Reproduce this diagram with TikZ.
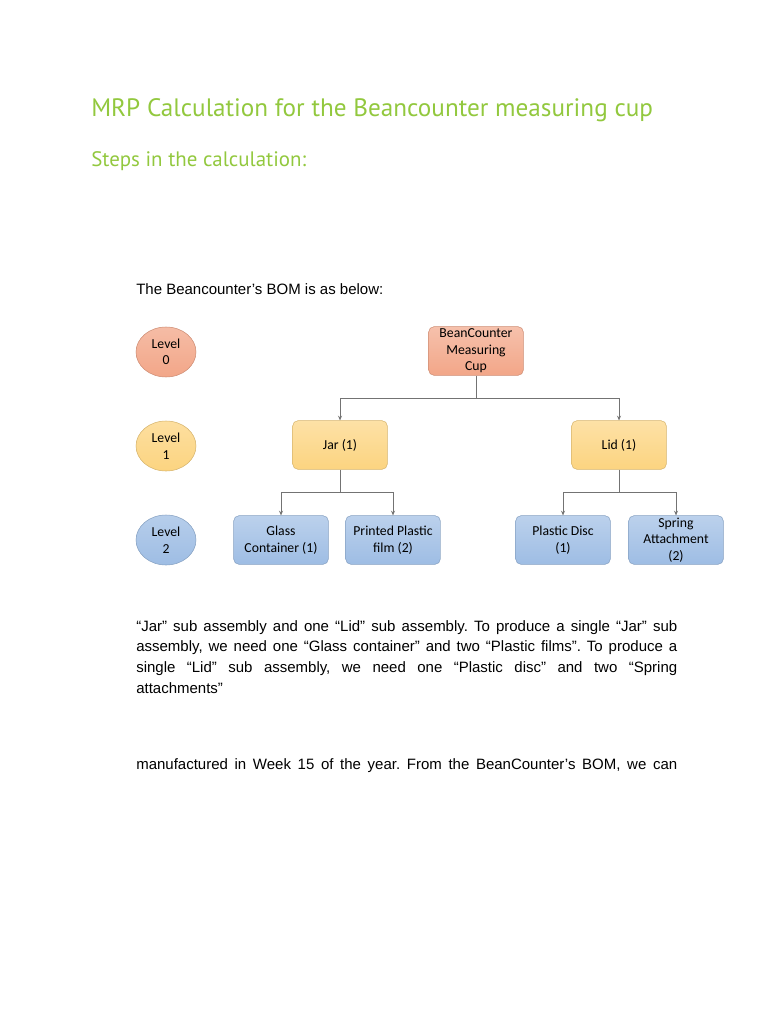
\documentclass[tikz,border=0pt]{standalone}
\usepackage{fontspec}
\setmainfont{Liberation Sans}
\newfontfamily\boxfont{Carlito}
\newfontfamily\headfont{PT Sans}
\usetikzlibrary{arrows.meta,shapes.geometric}
\definecolor{headgreen}{RGB}{146,200,62}
\definecolor{salmon}{RGB}{242,166,136}
\definecolor{amber}{RGB}{252,212,128}
\definecolor{skyblue}{RGB}{158,189,228}
\frenchspacing

\tikzset{
  item/.style={rounded corners=4pt, minimum width=71pt, minimum height=36.5pt,
    align=center, inner sep=1pt, draw=#1!85!black, line width=0.4pt,
    top color=#1!70, bottom color=#1,
    font=\boxfont\fontsize{10.3}{12.4}\selectfont},
  level/.style={ellipse, minimum width=45pt, minimum height=37.5pt,
    align=center, inner sep=0pt, draw=#1!85!black, line width=0.4pt,
    top color=#1!75, bottom color=#1,
    font=\boxfont\fontsize{10.3}{12.4}\selectfont},
  link/.style={draw=black!55, line width=0.5pt, -{Stealth[length=3.5pt,width=3pt]}},
  stem/.style={draw=black!55, line width=0.5pt}
}

\begin{document}
\begin{tikzpicture}[x=0.75pt,y=-0.75pt]
\useasboundingbox (0,0) rectangle (768,1024);

\node[anchor=base west, inner sep=0, text=headgreen, font=\headfont\fontsize{18.9}{23}\selectfont] (title) at (91,117) {MRP Calculation for the Beancounter measuring cup};
\node[anchor=base west, inner sep=0, text=headgreen, font=\headfont\fontsize{15.7}{19}\selectfont] (steps) at (91,166) {Steps in the calculation:};

\node[anchor=base west, inner sep=0, font=\fontsize{11.25}{15.5}\selectfont] (bomline) at (136,294) {The Beancounter’s BOM is as below:};

% levels
\node[level=salmon] (l0) at (166,352) {Level\\0};
\node[level=amber] (l1) at (166,446) {Level\\1};
\node[level=skyblue] (l2) at (166,540) {Level\\2};

% BOM tree
\node[item=salmon] (cup) at (476,351) {BeanCounter\\Measuring\\Cup};
\node[item=amber] (jar) at (340,445) {Jar (1)};
\node[item=amber] (lid) at (619,445) {Lid (1)};
\node[item=skyblue] (glass) at (281,540) {Glass\\Container (1)};
\node[item=skyblue] (film) at (393,540) {Printed Plastic\\film (2)};
\node[item=skyblue] (disc) at (563,540) {Plastic Disc\\(1)};
\node[item=skyblue] (spring) at (676,540) {Spring\\Attachment\\(2)};

\coordinate (cupbus) at (476,398);
\coordinate (jarbus) at (340,492);
\coordinate (lidbus) at (619,492);

\draw[stem] (cup) -- (cupbus);
\draw[link] (cupbus) -| (jar);
\draw[link] (cupbus) -| (lid);
\draw[stem] (jar) -- (jarbus);
\draw[link] (jarbus) -| (glass);
\draw[link] (jarbus) -| (film);
\draw[stem] (lid) -- (lidbus);
\draw[link] (lidbus) -| (disc);
\draw[link] (lidbus) -| (spring);

\node[anchor=north west, inner sep=0, text width=405.75pt, align=justify, font=\fontsize{11.25}{15.5}\selectfont] (para) at (136,620) {“Jar” sub assembly and one “Lid” sub assembly. To produce a single “Jar” sub\linebreak assembly, we need one “Glass container” and two “Plastic films”. To produce a\linebreak single “Lid” sub assembly, we need one “Plastic disc” and two “Spring\linebreak attachments”};

\node[anchor=base west, inner sep=0, font=\fontsize{11.25}{15.5}\selectfont] (week) at (136,769) {\makebox[405.75pt][s]{manufactured in Week 15 of the year. From the BeanCounter’s BOM, we can}};
\end{tikzpicture}
\end{document}
